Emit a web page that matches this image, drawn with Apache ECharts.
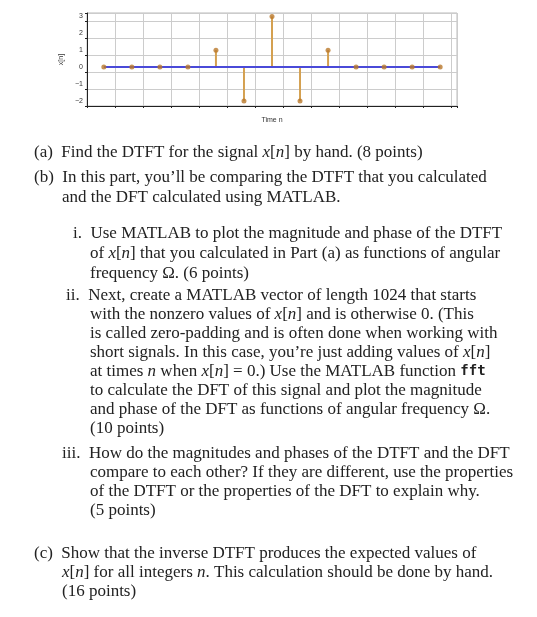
<!DOCTYPE html>
<html><head><meta charset="utf-8">
<script src="https://cdn.jsdelivr.net/npm/echarts@6/dist/echarts.min.js"></script>
<style>html,body{margin:0;padding:0;background:#fff}#c{width:537px;height:617px}</style>
</head><body><div id="c"></div>
<script>
const nValues = [-6,-5,-4,-3,-2,-1,0,1,2,3,4,5,6];
const xValues = [0,0,0,0,1,-2,3,-2,1,0,0,0,0];
const xTicks = [-6,-5,-4,-3,-2,-1,0,1,2,3,4,5,6];
const yTicks = [-2,-1,0,1,2,3];
const textLines = [
 [34,154,'(a)  Find the DTFT for the signal {i|x}[{i|n}] by hand. (8 points)'],
 [34,179,'(b)  In this part, you\u2019ll be comparing the DTFT that you calculated'],
 [62,199,'and the DFT calculated using MATLAB.'],
 [73,235,'i.  Use MATLAB to plot the magnitude and phase of the DTFT'],
 [90,255,'of {i|x}[{i|n}] that you calculated in Part (a) as functions of angular'],
 [90,275,'frequency \u03a9. (6 points)'],
 [66,297,'ii.  Next, create a MATLAB vector of length 1024 that starts'],
 [90,316,'with the nonzero values of {i|x}[{i|n}] and is otherwise 0. (This'],
 [90,335,'is called zero-padding and is often done when working with'],
 [90,354,'short signals. In this case, you\u2019re just adding values of {i|x}[{i|n}]'],
 [90,373,'at times {i|n} when {i|x}[{i|n}] = 0.) Use the MATLAB function {m|fft}'],
 [90,392,'to calculate the DFT of this signal and plot the magnitude'],
 [90,411,'and phase of the DFT as functions of angular frequency \u03a9.'],
 [90,430,'(10 points)'],
 [62,455,'iii.  How do the magnitudes and phases of the DTFT and the DFT'],
 [90,474,'compare to each other? If they are different, use the properties'],
 [90,493,'of the DTFT or the properties of the DFT to explain why.'],
 [90,512,'(5 points)'],
 [34,555,'(c)  Show that the inverse DTFT produces the expected values of'],
 [62,574,'{i|x}[{i|n}] for all integers {i|n}. This calculation should be done by hand.'],
 [62,593,'(16 points)']
];
const chart = echarts.init(document.getElementById('c'));
const serif = '"Liberation Serif","DejaVu Serif",serif';
const rich = {i:{fontStyle:'italic',fontFamily:serif,fontSize:17,fill:'#222'},m:{fontFamily:'"DejaVu Sans Mono",monospace',fontWeight:'bold',fontSize:14}};
const pts = nValues.map((n,k)=>[n,xValues[k]]);
chart.setOption({
 animation:false,
 grid:{left:87,right:80,top:13,height:93,show:true,borderColor:'#bbb',borderWidth:1},
 xAxis:{type:'value',min:-6.6,max:6.6,interval:1,
  name:'Time n',nameLocation:'middle',nameGap:11,nameTextStyle:{fontSize:7,color:'#333'},
  axisLine:{onZero:false,lineStyle:{color:'#222'}},axisTick:{show:true,length:2,lineStyle:{color:'#222'}},
  axisLabel:{fontSize:7,color:'#333',margin:4,formatter:v=>xTicks.includes(v)?String(v).replace('-','\u2212'):''},
  splitLine:{lineStyle:{color:'#ccc'}}},
 yAxis:{type:'value',min:-2.3,max:3.2,interval:1,
  name:'x[n]',nameLocation:'middle',nameGap:18,nameTextStyle:{fontSize:7,color:'#333'},
  axisLine:{onZero:false,show:true,lineStyle:{color:'#222'}},axisTick:{show:true,length:2,lineStyle:{color:'#222'}},
  axisLabel:{fontSize:7,color:'#333',margin:4,customValues:yTicks,formatter:v=>String(v).replace('-','\u2212')},
  splitLine:{lineStyle:{color:'#ccc'}}},
 series:[
  {type:'bar',data:pts,barWidth:2,itemStyle:{color:'#d4a050'},z:2},
  {type:'line',data:[[-6,0],[6,0]],symbol:'none',lineStyle:{color:'#4a4ad8',width:2},z:3},
  {type:'scatter',data:pts,symbolSize:5,itemStyle:{color:'#b9782a'},z:4}
 ],
 graphic:textLines.map(([x,y,t])=>({type:'text',left:x,top:y-10,style:{text:t,rich:rich,font:'17px '+serif,fill:'#222'}}))
});
</script></body></html>
